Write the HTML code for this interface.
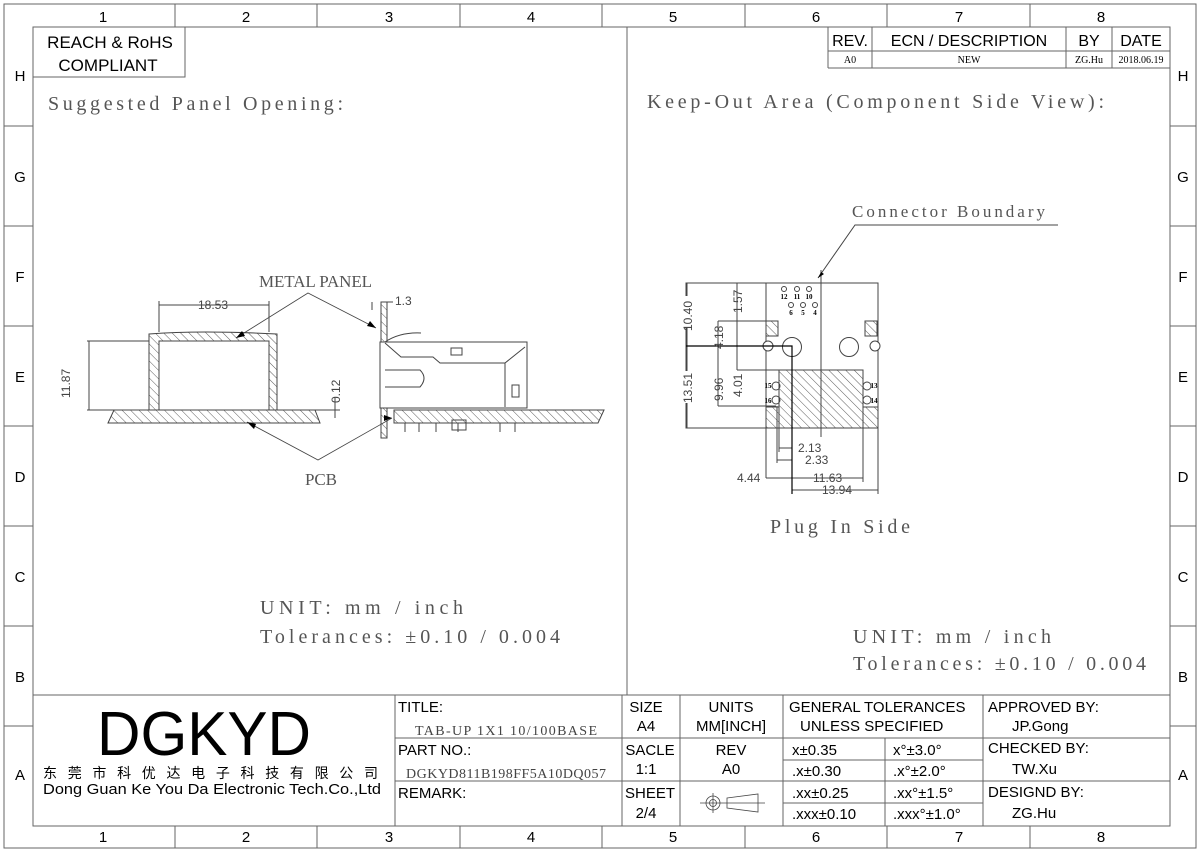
<!DOCTYPE html>
<html><head><meta charset="utf-8"><style>
html,body{margin:0;padding:0;background:#fff}
svg{display:block}
.s{font-family:"Liberation Sans",sans-serif;fill:#000}
.r{font-family:"Liberation Serif",serif;fill:#555}
.d{font-family:"Liberation Sans",sans-serif;fill:#444;font-size:12px}
</style></head><body>
<svg width="1200" height="852" viewBox="0 0 1200 852" xmlns="http://www.w3.org/2000/svg">
<defs>
<pattern id="h" patternUnits="userSpaceOnUse" width="6" height="6" patternTransform="rotate(-45)">
<rect width="6" height="6" fill="#fff"/><line x1="0" y1="0" x2="0" y2="6" stroke="#333" stroke-width="0.8"/></pattern>
</defs>
<g fill="none" stroke="#666" stroke-width="1">
<rect x="4" y="4" width="1192" height="844"/>
<rect x="33" y="27" width="1137" height="799"/>
<path d="M175 4V27M317 4V27M460 4V27M602 4V27M745 4V27M887 4V27M1030 4V27M175 826V848M317 826V848M460 826V848M602 826V848M745 826V848M887 826V848M1030 826V848"/>
<path d="M4 126H33M4 226H33M4 326H33M4 426H33M4 526H33M4 626H33M4 726H33M1170 126H1196M1170 226H1196M1170 326H1196M1170 426H1196M1170 526H1196M1170 626H1196M1170 726H1196"/>
<line x1="627" y1="27" x2="627" y2="695"/>
<rect x="33" y="27" width="152" height="50"/>
<path d="M828 27V68M872 27V68M1066 27V68M1112 27V68M1170 27V68M828 68H1170M828 51H1170"/>
<path d="M33 695H1170M395 695V826M622 695V826M680 695V826M783 695V826M885 738V826M983 695V826M395 738H783M395 781H783M783 738H983M783 760H983M783 781H1170M783 803H983M983 738H1170"/>
</g>
<g class="s" font-size="15" text-anchor="middle">
<text x="103" y="22">1</text><text x="246" y="22">2</text><text x="389" y="22">3</text><text x="531" y="22">4</text><text x="673" y="22">5</text><text x="816" y="22">6</text><text x="959" y="22">7</text><text x="1101" y="22">8</text>
<text x="103" y="842">1</text><text x="246" y="842">2</text><text x="389" y="842">3</text><text x="531" y="842">4</text><text x="673" y="842">5</text><text x="816" y="842">6</text><text x="959" y="842">7</text><text x="1101" y="842">8</text>
<text x="20" y="81">H</text><text x="20" y="182">G</text><text x="20" y="282">F</text><text x="20" y="382">E</text><text x="20" y="482">D</text><text x="20" y="582">C</text><text x="20" y="682">B</text><text x="20" y="780">A</text>
<text x="1183" y="81">H</text><text x="1183" y="182">G</text><text x="1183" y="282">F</text><text x="1183" y="382">E</text><text x="1183" y="482">D</text><text x="1183" y="582">C</text><text x="1183" y="682">B</text><text x="1183" y="780">A</text>
<text x="110" y="48" font-size="17">REACH &amp; RoHS</text><text x="108" y="71" font-size="17">COMPLIANT</text>
<text x="850" y="46" font-size="16">REV.</text><text x="969" y="46" font-size="16">ECN / DESCRIPTION</text><text x="1089" y="46" font-size="16">BY</text><text x="1141" y="46" font-size="16">DATE</text>
</g>
<g font-family="Liberation Serif,serif" font-size="10" text-anchor="middle"><text x="850" y="63">A0</text><text x="969" y="63">NEW</text><text x="1089" y="63">ZG.Hu</text><text x="1141" y="63">2018.06.19</text></g>

<g class="r" font-size="20">
<text x="48" y="110" textLength="295" lengthAdjust="spacing">Suggested Panel Opening:</text>
<text x="647" y="108" textLength="457" lengthAdjust="spacing">Keep-Out Area (Component Side View):</text>
<text x="260" y="614" textLength="203" lengthAdjust="spacing">UNIT: mm / inch</text>
<text x="260" y="643" textLength="300" lengthAdjust="spacing">Tolerances: ±0.10 / 0.004</text>
<text x="853" y="643" textLength="198" lengthAdjust="spacing">UNIT: mm / inch</text>
<text x="853" y="670" textLength="293" lengthAdjust="spacing">Tolerances: ±0.10 / 0.004</text>
<text x="770" y="533" textLength="140" lengthAdjust="spacing">Plug In Side</text>
</g>
<g class="r" font-size="17">
<text x="259" y="287" textLength="113" lengthAdjust="spacing">METAL PANEL</text>
<text x="305" y="485" textLength="32" lengthAdjust="spacing">PCB</text>
<text x="852" y="217" textLength="193" lengthAdjust="spacing">Connector Boundary</text>
</g>

<!-- left drawing -->
<g stroke="#444" stroke-width="1">
<path d="M149 410V334Q200 330 277 334V410H269V341H159V410Z" fill="url(#h)"/>
<path d="M108 423L114 410H315L320 423Z" fill="url(#h)"/>
<path d="M159 301V332M269 301V332M159 305H269M87 341H149M87 410H149M89 341V410M300 410H340M335 398V418" fill="none"/>
<path d="M381 302H387V438H381Z" fill="url(#h)"/>
<path d="M394 423L394 410H604L598 423Z" fill="url(#h)"/>
<path d="M380 342H527V408H380Z" fill="#fff"/>
<path d="M385 343L401 357H433L440 363H505L525 347M505 363V407M385 370H420Q428 378 420 387H385M451 348H462V355H451ZM512 385H519V397H512ZM385 342Q400 332 421 333M372 302V310M387 302H393M405 423V432M419 423V432M436 423V432M458 423V432M500 423V432M515 423V432M452 420H466V430H452Z" fill="none"/>
<path d="M236 338L308 293L376 328M247 422L318 460L392 418" fill="none" stroke-width="0.8"/>
</g>
<path d="M236 338l9 -2l-3 -5zM376 328l-9 -2l3 -5zM247 422l9 2l-2 5zM392 418l-8 3l0 -6z" fill="#000"/>
<g class="d"><text x="198" y="309">18.53</text><text x="395" y="305">1.3</text>
<text transform="translate(70 398) rotate(-90)">11.87</text>
<text transform="translate(340 403) rotate(-90)">0.12</text></g>

<!-- right drawing -->
<g stroke="#444" stroke-width="1" fill="none">
<rect x="686" y="283" width="192" height="145"/>
<line x1="766" y1="283" x2="766" y2="478"/>
<rect x="766" y="321" width="12" height="15" fill="url(#h)"/>
<rect x="865" y="321" width="12" height="15" fill="url(#h)"/>
<rect x="779" y="370" width="84" height="58" fill="url(#h)"/>
<rect x="766" y="407" width="13" height="21" fill="url(#h)"/>
<rect x="863" y="407" width="15" height="21" fill="url(#h)"/>
<circle cx="768" cy="346" r="5" fill="#fff"/><circle cx="792" cy="347" r="9.5"/><circle cx="849" cy="347" r="9.5"/><circle cx="875" cy="346" r="5" fill="#fff"/>
<circle cx="776" cy="386" r="4" fill="#fff"/><circle cx="776" cy="400" r="4" fill="#fff"/><circle cx="867" cy="386" r="4" fill="#fff"/><circle cx="867" cy="400" r="4" fill="#fff"/>
<circle cx="784" cy="289" r="2.5"/><circle cx="797" cy="289" r="2.5"/><circle cx="809" cy="289" r="2.5"/><circle cx="791" cy="305" r="2.5"/><circle cx="803" cy="305" r="2.5"/><circle cx="815" cy="305" r="2.5"/>
<path d="M821 270V437M1058 225H855L818 278"/>
<path d="M718 321H766M718 406H776M737 370H779M687 283V428M718 321V406M737 283V370M779 370V452M777 406V463M863 428V482M878 428V494M766 478H792M792 478H863M792 490H878M779 448H792M777 460H792"/>
<path d="M686 346H792V494" stroke="#000" stroke-width="1.2"/>
</g>
<path d="M818 278l6 -4l-3 -2z" fill="#000"/>
<g font-family="Liberation Serif,serif" font-size="7" font-weight="bold" text-anchor="middle">
<text x="784" y="299">12</text><text x="797" y="299">11</text><text x="809" y="299">10</text><text x="791" y="315">6</text><text x="803" y="315">5</text><text x="815" y="315">4</text>
<text x="768" y="388">15</text><text x="768" y="403">16</text><text x="874" y="388">13</text><text x="874" y="403">14</text></g>
<rect x="681" y="296" width="12" height="32" fill="#fff"/>
<rect x="681" y="371" width="12" height="32" fill="#fff"/>
<g class="d">
<text transform="translate(692 331) rotate(-90)">10.40</text>
<text transform="translate(692 403) rotate(-90)">13.51</text>
<text transform="translate(723 349) rotate(-90)">4.18</text>
<text transform="translate(723 401) rotate(-90)">9.96</text>
<text transform="translate(742 313) rotate(-90)">1.57</text>
<text transform="translate(742 397) rotate(-90)">4.01</text>
<text x="798" y="452">2.13</text><text x="805" y="464">2.33</text><text x="737" y="482">4.44</text><text x="813" y="482">11.63</text><text x="822" y="494">13.94</text>
</g>

<!-- title block -->
<text x="204" y="755" class="s" font-size="62" text-anchor="middle" textLength="214" lengthAdjust="spacingAndGlyphs">DGKYD</text>
<text x="43" y="778" font-family="'Liberation Sans','Noto Sans CJK SC',sans-serif" font-size="14" textLength="335" lengthAdjust="spacing">东莞市科优达电子科技有限公司</text>
<text x="43" y="794" class="s" font-size="15" textLength="338" lengthAdjust="spacingAndGlyphs">Dong Guan Ke You Da Electronic Tech.Co.,Ltd</text>
<g class="s" font-size="15">
<text x="398" y="712">TITLE:</text><text x="398" y="755">PART NO.:</text><text x="398" y="798">REMARK:</text>
<text x="789" y="712">GENERAL TOLERANCES</text><text x="800" y="731">UNLESS SPECIFIED</text>
<text x="792" y="755">x±0.35</text><text x="792" y="776">.x±0.30</text><text x="792" y="798">.xx±0.25</text><text x="792" y="819">.xxx±0.10</text>
<text x="893" y="755">x°±3.0°</text><text x="893" y="776">.x°±2.0°</text><text x="893" y="798">.xx°±1.5°</text><text x="893" y="819">.xxx°±1.0°</text>
<text x="988" y="712">APPROVED BY:</text><text x="1012" y="731">JP.Gong</text>
<text x="988" y="753">CHECKED BY:</text><text x="1012" y="774">TW.Xu</text>
<text x="988" y="797">DESIGND BY:</text><text x="1012" y="818">ZG.Hu</text>
</g>
<g class="s" font-size="15" text-anchor="middle">
<text x="646" y="712">SIZE</text><text x="646" y="731">A4</text><text x="731" y="712">UNITS</text><text x="731" y="731">MM[INCH]</text>
<text x="650" y="755">SACLE</text><text x="646" y="774">1:1</text><text x="731" y="755">REV</text><text x="731" y="774">A0</text>
<text x="650" y="798">SHEET</text><text x="646" y="818">2/4</text>
</g>
<g font-family="Liberation Serif,serif" font-size="14" fill="#444">
<text x="415" y="735" textLength="182" lengthAdjust="spacing">TAB-UP 1X1 10/100BASE</text>
<text x="406" y="778" textLength="200" lengthAdjust="spacing">DGKYD811B198FF5A10DQ057</text>
</g>
<g stroke="#444" fill="none" stroke-width="0.8">
<circle cx="713" cy="803" r="7"/><circle cx="713" cy="803" r="3.5"/><path d="M700 803H726M713 793V813M727 798L758 794V812L727 808Z M724 803H765"/>
</g>
</svg>
</body></html>
